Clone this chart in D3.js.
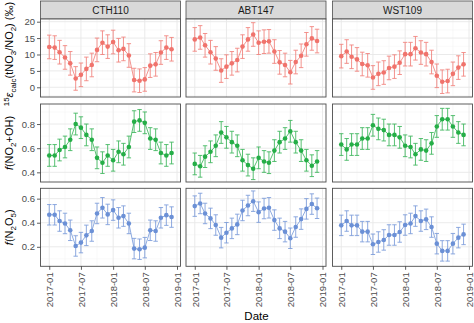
<!DOCTYPE html>
<html><head><meta charset="utf-8">
<script src="https://cdn.jsdelivr.net/npm/d3@7"></script>
<style>body{margin:0;background:#fff}svg{display:block}text{font-family:"Liberation Sans",Arial,sans-serif}</style>
</head><body>
<svg id="c" width="474" height="323"></svg>
<script>
// ---------- data ----------
const sites = ["CTH110", "ABT147", "WST109"];
const months = ["2017-01","2017-02","2017-03","2017-04","2017-05","2017-06","2017-07","2017-08","2017-09","2017-10","2017-11","2017-12",
                "2018-01","2018-02","2018-03","2018-04","2018-05","2018-06","2018-07","2018-08","2018-09","2018-10","2018-11","2018-12"];
const xTickLabels = ["2017-01","2017-07","2018-01","2018-07","2019-01"];

const epsCTH110 = [12.3,12.1,10.7,9.1,7.3,2.7,3.8,5.6,6.8,11.4,13.6,12.4,13.8,11.3,11.7,9.7,2.2,2.0,2.4,6.6,7.0,10.6,12.1,11.6];
const epsABT147 = [14.6,15.2,12.8,10.7,8.8,5.1,6.3,7.3,8.3,12.4,14.6,16.1,13.6,13.9,14.0,10.9,7.6,6.8,4.6,7.7,9.6,13.1,14.9,14.1];
const epsWST109 = [9.5,10.9,9.3,8.5,7.1,6.7,3.0,4.1,4.5,5.9,6.3,7.5,10.1,10.1,11.9,10.6,10.1,7.7,3.5,1.7,1.9,4.1,6.0,7.0];
const epsErr = 3.6;

const nohCTH110 = [0.54,0.54,0.585,0.61,0.67,0.80,0.77,0.71,0.67,0.52,0.48,0.54,0.50,0.57,0.55,0.61,0.82,0.83,0.81,0.68,0.67,0.56,0.54,0.56];
const nohABT147 = [0.47,0.45,0.53,0.57,0.62,0.73,0.69,0.65,0.62,0.50,0.46,0.43,0.52,0.49,0.48,0.58,0.65,0.68,0.74,0.65,0.58,0.50,0.455,0.49];
const nohWST109 = [0.63,0.59,0.63,0.63,0.68,0.68,0.79,0.76,0.75,0.71,0.71,0.69,0.62,0.61,0.55,0.59,0.58,0.64,0.78,0.84,0.84,0.78,0.73,0.71];
const nohErr = 0.09;

const n2o5CTH110 = [0.466,0.466,0.414,0.394,0.337,0.207,0.235,0.295,0.331,0.477,0.524,0.469,0.505,0.441,0.455,0.394,0.185,0.18,0.193,0.337,0.331,0.441,0.463,0.447];
const n2o5ABT147 = [0.538,0.56,0.477,0.436,0.381,0.276,0.317,0.353,0.386,0.502,0.543,0.579,0.488,0.518,0.524,0.422,0.353,0.326,0.271,0.364,0.43,0.515,0.555,0.52];
const n2o5WST109 = [0.378,0.414,0.378,0.378,0.326,0.326,0.221,0.24,0.257,0.298,0.298,0.323,0.381,0.394,0.455,0.414,0.428,0.364,0.226,0.166,0.166,0.226,0.276,0.303];
const n2o5Err = 0.085;

const epsTicks = [0,5,10,15,20];
const nohTicks = [0.4,0.6,0.8];
const n2o5Ticks = [0.2,0.4,0.6];

// ---------- layout ----------
const parse = d3.timeParse("%Y-%m");
const svg = d3.select("#c");
const panelX = [40.5, 186, 332.5], panelW = 140;
const stripTop = 1, stripH = 18;
const rowTop = [19, 104, 188.3], rowH = 78;
const titleShift = [-4, 0, 0];

const rows = [
  {vals:[epsCTH110,epsABT147,epsWST109], err:epsErr, ticks:epsTicks, minor:[-2.5,2.5,7.5,12.5,17.5], dom:[-2.96,20.82], col:"#F0736C", fmt:d3.format("d"),
   title:[{t:"15",s:"sup"},{t:"ε",i:true},{t:"calc",s:"sub"},{t:"(tNO"},{t:"3",s:"sub"},{t:"/NO"},{t:"2",s:"sub"},{t:") (‰)"}]},
  {vals:[nohCTH110,nohABT147,nohWST109], err:nohErr, ticks:nohTicks, minor:[0.5,0.7,0.9], dom:[0.32,0.966], col:"#25AE47", fmt:d3.format(".1f"),
   title:[{t:"f",i:true},{t:"(NO"},{t:"2",s:"sub"},{t:"+OH)"}]},
  {vals:[n2o5CTH110,n2o5ABT147,n2o5WST109], err:n2o5Err, ticks:n2o5Ticks, minor:[0.1,0.3,0.5], dom:[0.038,0.686], col:"#6B90D6", fmt:d3.format(".1f"),
   title:[{t:"f",i:true},{t:"(N"},{t:"2",s:"sub"},{t:"O"},{t:"5",s:"sub"},{t:")"}]}
];

const x = d3.scaleTime().domain([new Date(2016,10,12), new Date(2019,0,21)]).range([0, panelW]);
const majorX = xTickLabels.map(parse);
const minorX = ["2016-10","2017-04","2017-10","2018-04","2018-10"].map(parse);
const dates = months.map(parse);

// strips
sites.forEach((s, j) => {
  const g = svg.append("g").attr("transform", `translate(${panelX[j]},${stripTop})`);
  g.append("rect").attr("width", panelW).attr("height", stripH).attr("fill", "#d9d9d9").attr("stroke", "#4d4d4d").attr("stroke-width", 0.8);
  g.append("text").attr("x", panelW/2).attr("y", stripH/2).attr("dy", "0.36em").attr("text-anchor", "middle")
    .attr("font-size", "10px").attr("fill", "#1a1a1a").text(s);
});

function richText(sel, segs, size) {
  let shift = 0;
  segs.forEach(sg => {
    const ts = sel.append("tspan").text(sg.t);
    let target = 0, fs = size;
    if (sg.s === "sup") { target = -0.38*size; fs = size*0.72; }
    if (sg.s === "sub") { target = 0.28*size; fs = size*0.72; }
    ts.attr("dy", target - shift).attr("font-size", fs + "px");
    if (sg.i) ts.attr("font-style", "italic");
    shift = target;
  });
  if (shift !== 0) sel.append("tspan").attr("dy", -shift).text("\u200b");
}

rows.forEach((r, i) => {
  const y = d3.scaleLinear().domain(r.dom).range([rowH, 0]);
  sites.forEach((s, j) => {
    const g = svg.append("g").attr("transform", `translate(${panelX[j]},${rowTop[i]})`);
    g.append("rect").attr("width", panelW).attr("height", rowH).attr("fill", "#fff");
    // grid
    g.selectAll(".mnx").data(minorX.filter(d => x(d) > 0 && x(d) < panelW)).join("line")
      .attr("x1", d => x(d)).attr("x2", d => x(d)).attr("y1", 0).attr("y2", rowH).attr("stroke", "#f2f2f2").attr("stroke-width", 0.5);
    g.selectAll(".mny").data(r.minor.filter(d => y(d) > 0 && y(d) < rowH)).join("line")
      .attr("y1", d => y(d)).attr("y2", d => y(d)).attr("x1", 0).attr("x2", panelW).attr("stroke", "#f2f2f2").attr("stroke-width", 0.5);
    g.selectAll(".mjx").data(majorX).join("line")
      .attr("x1", d => x(d)).attr("x2", d => x(d)).attr("y1", 0).attr("y2", rowH).attr("stroke", "#e8e8e8").attr("stroke-width", 0.9);
    g.selectAll(".mjy").data(r.ticks).join("line")
      .attr("y1", d => y(d)).attr("y2", d => y(d)).attr("x1", 0).attr("x2", panelW).attr("stroke", "#e8e8e8").attr("stroke-width", 0.9);

    const data = r.vals[j].map((v, k) => ({d: dates[k], v}));
    // error bars
    const eb = g.append("g").attr("stroke", r.col).attr("stroke-width", 0.9).attr("opacity", 0.85);
    data.forEach(p => {
      const cx = x(p.d), y1 = y(p.v - r.err), y2 = y(p.v + r.err);
      eb.append("line").attr("x1", cx).attr("x2", cx).attr("y1", y1).attr("y2", y2);
      eb.append("line").attr("x1", cx-2.2).attr("x2", cx+2.2).attr("y1", y1).attr("y2", y1);
      eb.append("line").attr("x1", cx-2.2).attr("x2", cx+2.2).attr("y1", y2).attr("y2", y2);
    });
    g.append("path").datum(data).attr("fill", "none").attr("stroke", r.col).attr("stroke-width", 0.9).attr("opacity", 0.85)
      .attr("d", d3.line().x(p => x(p.d)).y(p => y(p.v)));
    g.selectAll("circle").data(data).join("circle").attr("cx", p => x(p.d)).attr("cy", p => y(p.v)).attr("r", 2.3).attr("fill", r.col);

    g.append("rect").attr("width", panelW).attr("height", rowH).attr("fill", "none").attr("stroke", "#4d4d4d").attr("stroke-width", 0.9);

    // y axis on first column
    if (j === 0) {
      const ya = d3.axisLeft(y).tickValues(r.ticks).tickFormat(r.fmt).tickSize(3.5).tickPadding(2);
      const ag = g.append("g").call(ya);
      ag.select(".domain").remove();
      ag.selectAll("line").attr("stroke", "#333").attr("stroke-width", 0.8);
      ag.selectAll("text").attr("font-size", "9.5px").attr("fill", "#4d4d4d").attr("font-family", '"Liberation Sans",Arial,sans-serif');
    }
    // x axis on last row
    if (i === rows.length - 1) {
      const xa = d3.axisBottom(x).tickValues(majorX).tickFormat(d3.timeFormat("%Y-%m")).tickSize(3.5).tickPadding(2);
      const ag = g.append("g").attr("transform", `translate(0,${rowH})`).call(xa);
      ag.select(".domain").remove();
      ag.selectAll("line").attr("stroke", "#333").attr("stroke-width", 0.8);
      ag.selectAll("text").attr("font-size", "9.5px").attr("fill", "#4d4d4d").attr("font-family", '"Liberation Sans",Arial,sans-serif')
        .attr("text-anchor", "end").attr("transform", "rotate(-90)").attr("x", -6).attr("y", 0).attr("dy", "0.35em");
    }
  });
  // y title
  const t = svg.append("text").attr("text-anchor", "middle").attr("font-size", "11px").attr("fill", "#000")
    .attr("transform", `translate(13,${rowTop[i] + rowH/2 + titleShift[i]}) rotate(-90)`);
  richText(t, r.title, 11);
});

svg.append("text").attr("x", (panelX[0] + panelX[2] + panelW)/2).attr("y", 320).attr("text-anchor", "middle")
  .attr("font-size", "11.5px").attr("fill", "#000").text("Date");
</script>
</body></html>
